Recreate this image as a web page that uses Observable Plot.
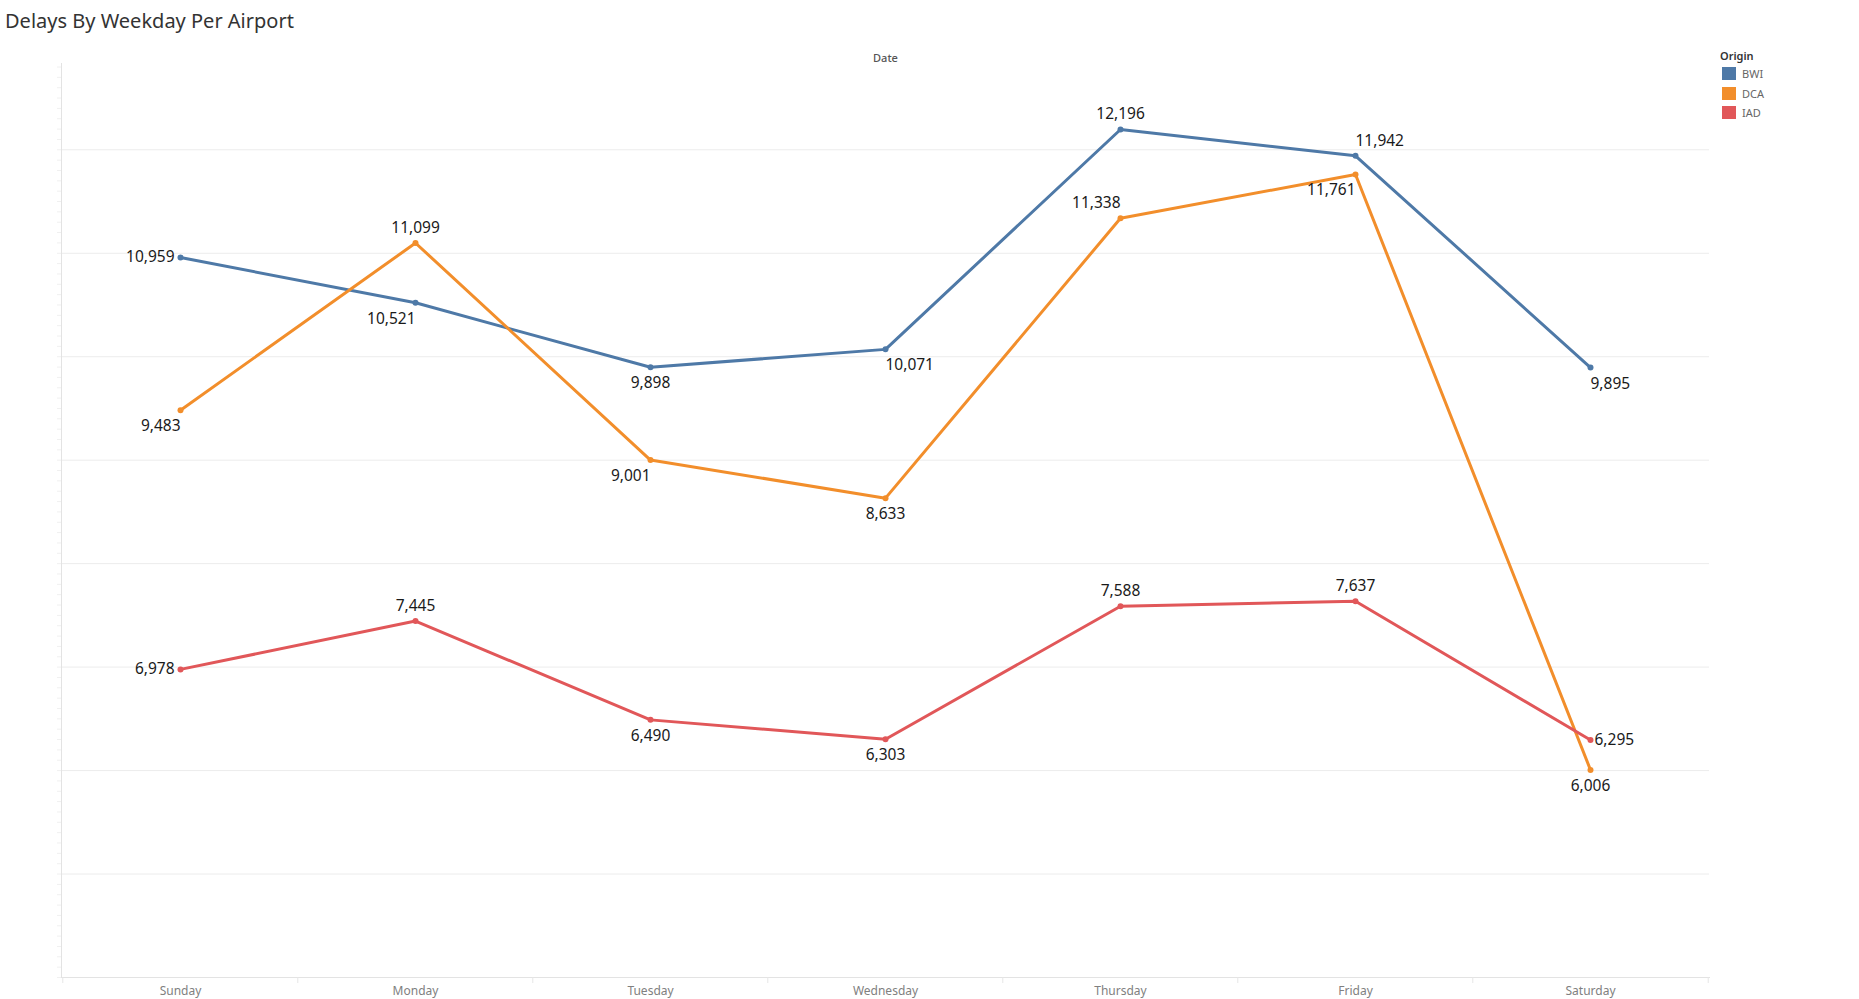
<!DOCTYPE html>
<html><head><meta charset="utf-8">
<script src="https://cdn.jsdelivr.net/npm/d3@7"></script>
<script src="https://cdn.jsdelivr.net/npm/@observablehq/plot@0.6"></script>
<style>
body{margin:0;background:#fff;font-family:"Noto Sans",sans-serif;}
#wrap{position:relative;width:1859px;}
#title{height:40px;box-sizing:border-box;padding:8px 0 0 5px;font-size:20px;color:#333;line-height:26px;}
#legend{position:absolute;left:1720px;top:47px;font-size:11px;color:#666;}
#legend .hd{font-weight:600;color:#333;height:17px;line-height:17px;}
#legend .it{display:flex;align-items:center;height:19.5px;}
#legend .sw{width:14px;height:13px;margin:0 6px 0 2px;}
</style></head><body>
<div id="wrap"><div id="title">Delays By Weekday Per Airport</div><div id="chart"></div><div id="legend"></div></div>
<script>
const days = ["Sunday","Monday","Tuesday","Wednesday","Thursday","Friday","Saturday"];
const origins = ["BWI","DCA","IAD"];
const colors = ["#4e79a7","#f28e2b","#e15759"];
const bwi = [10959,10521,9898,10071,12196,11942,9895];
const dca = [9483,11099,9001,8633,11338,11761,6006];
const iad = [6978,7445,6490,6303,7588,7637,6295];
const bwiPos = ["left","below-end","below","below-start","above","above-start","below-start"];
const dcaPos = ["below-end","above","below-end","below","above-end","below-end","below"];
const iadPos = ["left","above","below","below","above","above","right"];
const yDomain = [4000, 12834];
const gridTicks = [5000,6000,7000,8000,9000,10000,11000,12000];

const data = [];
[["BWI", bwi, bwiPos], ["DCA", dca, dcaPos], ["IAD", iad, iadPos]].forEach(([o, vals, pos]) =>
  vals.forEach((v, i) => data.push({origin: o, day: days[i], value: v, pos: pos[i]})));

const W = 1859, H = 959, ML = 61, MR = 150, MT = 23, MB = 22;
const step = (W - ML - MR) / days.length;
const fmt = d3.format(",");

const placements = {
  "above": {dy: -15, textAnchor: "middle", dx: 0},
  "above-start": {dy: -15, textAnchor: "start", dx: 0},
  "above-end": {dy: -15, textAnchor: "end", dx: 0},
  "below": {dy: 16, textAnchor: "middle", dx: 0},
  "below-start": {dy: 16, textAnchor: "start", dx: 0},
  "below-end": {dy: 16, textAnchor: "end", dx: 0},
  "left": {dy: 0, textAnchor: "end", dx: -6},
  "right": {dy: 0, textAnchor: "start", dx: 4}
};

const labelMarks = Object.entries(placements).map(([p, o]) =>
  Plot.text(data, {filter: d => d.pos === p, x: "day", y: "value", text: d => fmt(d.value),
    dx: o.dx, dy: o.dy, textAnchor: o.textAnchor, fontSize: 15.5, fill: "#1a1a1a"}));

const chart = Plot.plot({
  width: W, height: H,
  marginLeft: ML, marginRight: MR, marginTop: MT, marginBottom: MB,
  style: {fontFamily: "Noto Sans", background: "#fff", overflow: "visible"},
  x: {type: "point", domain: days, padding: 0.5},
  y: {domain: yDomain, nice: false},
  color: {domain: origins, range: colors},
  marks: [
    Plot.gridY(gridTicks, {stroke: "#ececec", strokeOpacity: 1}),
    Plot.axisY(d3.range(4000, 12801, 100), {tickSize: 4, tickFormat: () => "", stroke: "#f0f0f0", label: null}),
    Plot.frame({anchor: "left", stroke: "#e3e3e3"}),
    Plot.frame({anchor: "bottom", stroke: "#e3e3e3"}),
    Plot.axisX(days, {tickSize: 6, tickFormat: () => "", dx: -step / 2, stroke: "#e6e6e6", label: null}),
    Plot.axisX(["Saturday"], {tickSize: 6, tickFormat: () => "", dx: step / 2, stroke: "#e6e6e6", label: null}),
    Plot.axisX({tickSize: 0, tickPadding: 9, fontSize: 12, color: "#808080", label: null}),
    Plot.text(["Date"], {text: d => d, frameAnchor: "top", dy: -9, fontSize: 11, fill: "#555", fontWeight: 500}),
    Plot.line(data, {x: "day", y: "value", stroke: "origin", z: "origin", strokeWidth: 3}),
    Plot.dot(data, {x: "day", y: "value", fill: "origin", r: 3}),
    ...labelMarks
  ]
});
document.getElementById("chart").appendChild(chart);

const lg = document.getElementById("legend");
lg.innerHTML = '<div class="hd">Origin</div>' + origins.map((o, i) =>
  `<div class="it"><span class="sw" style="background:${colors[i]}"></span>${o}</div>`).join("");
</script>
</body></html>
